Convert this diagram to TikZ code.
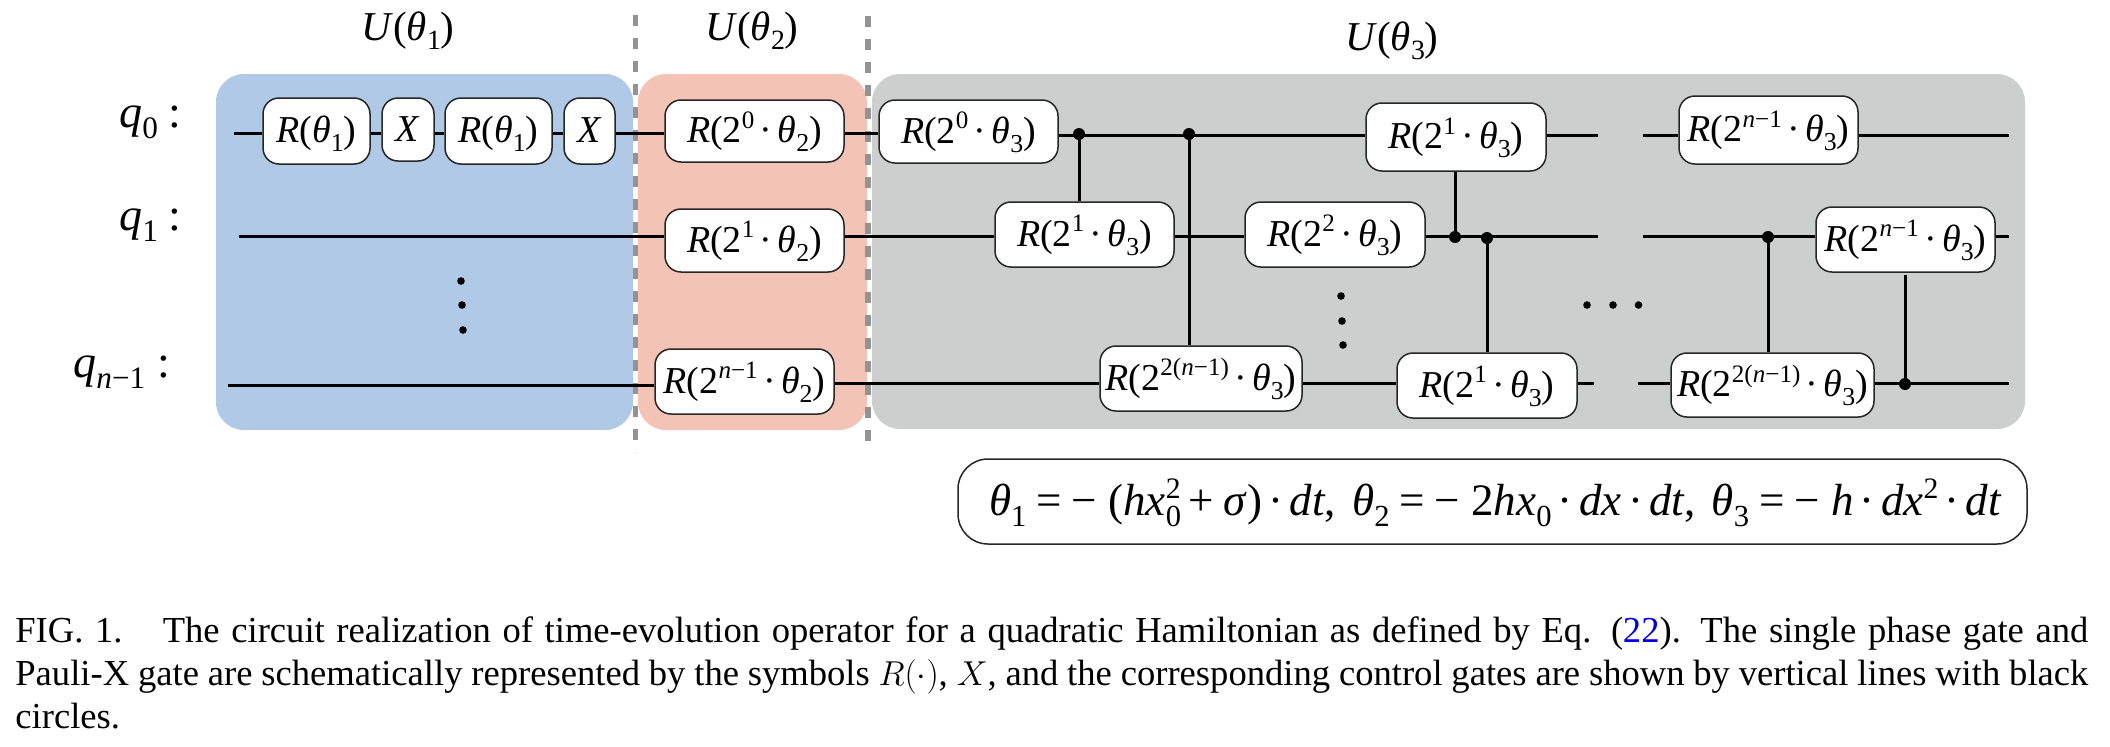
\documentclass[tikz,border=0pt]{standalone}
\usepackage{fontspec}
\usepackage{graphicx}
\setmainfont{Liberation Serif}
\usetikzlibrary{calc}
\newcommand\mi[1]{\textit{#1}}
\newcommand\gS[1]{\raisebox{.38em}{\scalebox{.66}{#1}}}
\newcommand\gs[1]{\raisebox{-.24em}{\scalebox{.68}{#1}}}
\newcommand\gSs[2]{\rlap{\gS{#1}}\gs{#2}}
\newcommand\mdt{\hspace{.14em}·\hspace{.14em}}
\newcommand\Rg[2]{\mi{R}(2\gS{#1}\mdt\mi{θ}\gs{#2})}
\newcommand\nmo{\mi{n}−1}
\newcommand\eqgap{\hspace{.22em}}
\definecolor{bandblue}{HTML}{AFC9E7}
\definecolor{bandpink}{HTML}{F3C4B6}
\definecolor{bandgray}{HTML}{CDCECE}
\definecolor{sepgray}{HTML}{939393}
\definecolor{refblue}{HTML}{0000E0}
\tikzset{
  band/.style={rounded corners=14pt,draw=none},
  sep/.style={draw=sepgray,line width=2.6pt,dash pattern=on 5.5pt off 6pt},
  wire/.style={draw=black,line width=1.5pt},
  gatebox/.style 2 args={draw=black!85,fill=white,line width=.75pt,rounded corners=8pt,inner sep=0pt,
    minimum width=#1*.5pt,minimum height=#2*.5pt,text height=12.5pt,text depth=.8pt,font=\fontsize{19}{22}\selectfont},
  ctrl/.style={circle,fill=black,inner sep=0pt,minimum size=6pt},
  vdot/.style={circle,fill=black,inner sep=0pt,minimum size=3.8pt},
  qlab/.style={anchor=base west,inner sep=0pt,font=\fontsize{23}{26}\selectfont},
  ulab/.style={anchor=base west,inner sep=0pt,font=\fontsize{20.5}{24}\selectfont},
  captxt/.style={anchor=base west,inner sep=0pt,font=\fontsize{18.3}{21}\selectfont},
}
\begin{document}
\begin{tikzpicture}[x=.5pt,y=-.5pt]
\useasboundingbox (0,0) rectangle (2110,746);
% bands
\path[band,fill=bandblue] (216,74) rectangle (633,430);
\path[band,fill=bandpink] (638,74) rectangle (867,430);
\path[band,fill=bandgray] (872,74) rectangle (2025,429);
% separators
\coordinate (s1t) at (635.5,15); \coordinate (s1b) at (635.5,452);
\coordinate (s2t) at (868,16);   \coordinate (s2b) at (868,452);
\draw[sep] (s1t) -- (s1b);
\draw[sep] (s2t) -- (s2b);
% titles
\node[ulab] (u1) at (361,40) {\mi{U}(\mi{θ}\gs{1})};
\node[ulab] (u2) at (705,40) {\mi{U}(\mi{θ}\gs{2})};
\node[ulab] (u3) at (1345,50) {\mi{U}(\mi{θ}\gs{3})};
% qubit labels
\node[qlab] (q0) at (119,127) {\mi{q}\gs{0}\hspace{5pt}:};
\node[qlab] (q1) at (119,230) {\mi{q}\gs{1}\hspace{5pt}:};
\node[qlab] (qn) at (73,377) {\mi{q}\gs{\nmo}\hspace{6pt}:};
% gates U1
\node[gatebox={107}{66}] (a1) at (316.5,131) {\mi{R}(\mi{θ}\gs{1})};
\node[gatebox={52}{63}] (a2) at (408,129.5) {\mi{X}};
\node[gatebox={107}{66}] (a3) at (498.5,131) {\mi{R}(\mi{θ}\gs{1})};
\node[gatebox={51}{66}] (a4) at (589.5,131) {\mi{X}};
% gates U2
\node[gatebox={179}{62}] (b1) at (754.5,131) {\Rg{0}{2}};
\node[gatebox={179}{63}] (b2) at (754.5,240.5) {\Rg{1}{2}};
\node[gatebox={179}{65}] (b3) at (744.5,381.5) {\Rg{\nmo}{2}};
% gates U3
\node[gatebox={179}{63}] (c1) at (968.5,131.5) {\Rg{0}{3}};
\node[gatebox={179}{65}] (c2) at (1084.5,234.5) {\Rg{1}{3}};
\node[gatebox={202}{65}] (c3) at (1201,378.5) {\Rg{2(\nmo)}{3}};
\node[gatebox={180}{65}] (c4) at (1335,234.5) {\Rg{2}{3}};
\node[gatebox={180}{68}] (c5) at (1456,137) {\Rg{1}{3}};
\node[gatebox={180}{65}] (c6) at (1487,385.5) {\Rg{1}{3}};
\node[gatebox={179}{68}] (c7) at (1768.5,130) {\Rg{\nmo}{3}};
\node[gatebox={179}{65}] (c8) at (1905.5,239.5) {\Rg{\nmo}{3}};
\node[gatebox={203}{64}] (c9) at (1772.5,385) {\Rg{2(\nmo)}{3}};
% wire ends
\coordinate (w0s) at (234,133);
\coordinate (w1s) at (239,236);
\coordinate (w2s) at (228,385);
\coordinate (t0) at (0,135);
\coordinate (t1) at (0,236);
\coordinate (t2) at (0,383);
\coordinate (e0a) at (1598,135); \coordinate (e0b) at (1643,135); \coordinate (e0c) at (2009,135);
\coordinate (e1a) at (1598,236); \coordinate (e1b) at (1643,236); \coordinate (e1c) at (2009,236);
\coordinate (e2a) at (1594,383); \coordinate (e2b) at (1638,383); \coordinate (e2c) at (2009,383);
% controls
\node[ctrl] (d1) at (1079,134) {};
\node[ctrl] (d2) at (1189,134) {};
\node[ctrl] (d3) at (1455,237) {};
\node[ctrl] (d4) at (1487,238) {};
\node[ctrl] (d5) at (1768,237) {};
\node[ctrl] (d6) at (1905,384) {};
\coordinate (d6t) at (1905,275);
% wires
\draw[wire] (w0s) -- (a1.west |- w0s);
\draw[wire] (a1.east |- w0s) -- (a2.west |- w0s);
\draw[wire] (a2.east |- w0s) -- (a3.west |- w0s);
\draw[wire] (a3.east |- w0s) -- (a4.west |- w0s);
\draw[wire] (a4.east |- w0s) -- (b1.west |- w0s);
\draw[wire] (b1.east |- w0s) -- (c1.west |- w0s);
\draw[wire] (c1.east |- t0) -- (c5.west |- t0);
\draw[wire] (c5.east |- t0) -- (e0a);
\draw[wire] (e0b) -- (c7.west |- t0);
\draw[wire] (c7.east |- t0) -- (e0c);
\draw[wire] (w1s) -- (b2.west |- w1s);
\draw[wire] (b2.east |- w1s) -- (c2.west |- w1s);
\draw[wire] (c2.east |- t1) -- (c4.west |- t1);
\draw[wire] (c4.east |- t1) -- (e1a);
\draw[wire] (e1b) -- (c8.west |- t1);
\draw[wire] (c8.east |- t1) -- (e1c);
\draw[wire] (w2s) -- (b3.west |- w2s);
\draw[wire] (b3.east |- t2) -- (c3.west |- t2);
\draw[wire] (c3.east |- t2) -- (c6.west |- t2);
\draw[wire] (c6.east |- t2) -- (e2a);
\draw[wire] (e2b) -- (c9.west |- t2);
\draw[wire] (c9.east |- t2) -- (e2c);
\draw[wire] (d1.center) -- (c2.north -| d1);
\draw[wire] (d2.center) -- (c3.north -| d2);
\draw[wire] (d3.center) -- (c5.south -| d3);
\draw[wire] (d4.center) -- (c6.north -| d4);
\draw[wire] (d5.center) -- (c9.north -| d5);
\draw[wire] (d6.center) -- (d6t);
% ellipsis dots
\node[vdot] (v1) at (461,281) {}; \node[vdot] (v2) at (462,305) {}; \node[vdot] (v3) at (463,330) {};
\node[vdot] (v4) at (1341,296) {}; \node[vdot] (v5) at (1342,321) {}; \node[vdot] (v6) at (1343,345) {};
\node[vdot] (h1) at (1587,305) {}; \node[vdot] (h2) at (1613,305) {}; \node[vdot] (h3) at (1638.5,305) {};
% equation
\node[draw=black!85,line width=.75pt,rounded corners=15pt,inner sep=0pt,minimum width=534.5pt,minimum height=42.5pt,
  font=\fontsize{22.5}{26}\selectfont,text height=15pt,text depth=1pt] (eq) at (1492.5,501.5)
  {\hspace{3pt}\mi{θ}\gs{1}\eqgap=\eqgap− (\mi{hx}\gSs{2}{0}\hspace{.16em}+\eqgap\mi{σ})\mdt\mi{dt},\hspace{.36em}\mi{θ}\gs{2}\eqgap=\eqgap− 2\mi{hx}\gs{0}\mdt\mi{dx}\mdt\mi{dt},\hspace{.36em}\mi{θ}\gs{3}\eqgap=\eqgap− \mi{h}\mdt\mi{dx}\gS{2}\mdt\mi{dt}};
% caption
\node[captxt] (cap1) at (15,642) {\hbox to 1036.5pt{FIG. 1.\hspace{1.1em}The circuit realization of time-evolution operator for a quadratic Hamiltonian as defined by Eq. (\textcolor{refblue}{22}). The single phase gate and}};
\node[captxt] (cap2) at (15,685) {\hbox to 1036.5pt{Pauli-X gate are schematically represented by the symbols $R(\cdot)$, $X$, and the corresponding control gates are shown by vertical lines with black}};
\node[captxt] (cap3) at (15,728) {circles.};
\end{tikzpicture}
\end{document}
